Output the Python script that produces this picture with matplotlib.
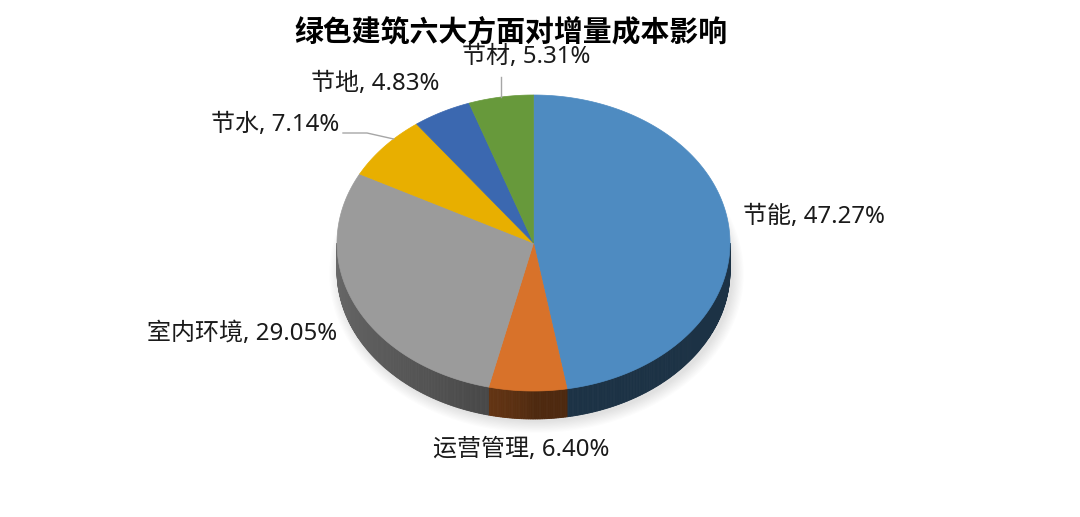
import numpy as np
import matplotlib
matplotlib.use("Agg")
import matplotlib.pyplot as plt
from matplotlib.patches import Polygon, Ellipse

plt.rcParams['font.family'] = ['Noto Sans CJK SC', 'DejaVu Sans']

# data
categories = ["节能", "运营管理", "室内环境", "节水", "节地", "节材"]
shares = [47.27, 6.40, 29.05, 7.14, 4.83, 5.31]
colors = ["#4E8BC1", "#D8722A", "#9B9B9B", "#E8AF00", "#3B68B0", "#67993B"]

title = "绿色建筑六大方面对增量成本影响"

# layout (pixel coords, y downward)
cx, cy = 533.5, 243.0
rx, ry = 196.5, 148.0
depth = 28.0
label_xy = [(814, 217), (521, 450), (242, 334), (275, 125), (375, 84), (526, 57)]


def pt(theta_deg, dy=0.0):
    t = np.radians(theta_deg)
    return cx + rx * np.cos(t), cy - ry * np.sin(t) + dy


def side_factor(theta):
    # theta in [-180, 0]; left side lighter, front/right darker
    s = np.clip((-90 - theta) / 90.0, 0, 1)
    return 0.36 + 0.32 * s ** 0.6


fig = plt.figure(figsize=(10.8, 5.17), dpi=100)
ax = fig.add_axes([0, 0, 1, 1])
ax.set_xlim(0, 1080)
ax.set_ylim(517, 0)
ax.axis("off")

# soft shadow
for i in range(10):
    ax.add_patch(Ellipse((cx + 3, cy + depth + 3), 2 * (rx + 1.2 * i), 2 * (ry + 1.2 * i),
                         facecolor="black", edgecolor="none", alpha=0.012, zorder=1))

total = sum(shares)
cum = np.cumsum([0] + shares)
starts = 90 - cum[:-1] / total * 360
ends = 90 - cum[1:] / total * 360

# side walls (front half only)
for s, e, col in zip(starts, ends, colors):
    lo, hi = max(e, -180), min(s, 0)
    if hi <= lo:
        continue
    base = np.array(matplotlib.colors.to_rgb(col))
    angs = np.linspace(lo, hi, max(2, int((hi - lo) * 2)))
    for a0, a1 in zip(angs[:-1], angs[1:]):
        f = side_factor((a0 + a1) / 2)
        c = np.clip(base * f, 0, 1)
        quad = [pt(a0), pt(a1), pt(a1, depth), pt(a0, depth)]
        ax.add_patch(Polygon(quad, closed=True, facecolor=c, edgecolor=c, lw=0.6, zorder=2))

# top faces
for s, e, col in zip(starts, ends, colors):
    angs = np.linspace(s, e, 200)
    verts = [(cx, cy)] + [pt(a) for a in angs]
    ax.add_patch(Polygon(verts, closed=True, facecolor=col, edgecolor=col, lw=0.5, zorder=3))

# labels
lab_font = ['Noto Sans', 'Noto Sans CJK SC', 'DejaVu Sans']
for name, v, (lx, ly) in zip(categories, shares, label_xy):
    ax.text(lx, ly, f"{name}, {v:.2f}%", fontsize=17.3, family=lab_font, ha="center", va="center",
            color="#1a1a1a", zorder=5)

# leader lines for 节材 and 节水
mid = (starts + ends) / 2
px, py = pt(mid[5])
ax.plot([px, px], [label_xy[5][1] + 20, py], color="#a6a6a6", lw=1.0, zorder=4)
px, py = pt(mid[3] - 4)
ax.plot([label_xy[3][0] + 68, label_xy[3][0] + 92, px], [label_xy[3][1] + 8, label_xy[3][1] + 8, py],
        color="#a6a6a6", lw=1.0, zorder=4)

ax.text(511, 31, title, fontsize=20.8, fontweight="bold", ha="center", va="center", color="black")

fig.savefig("out.png", dpi=100, facecolor="white")
